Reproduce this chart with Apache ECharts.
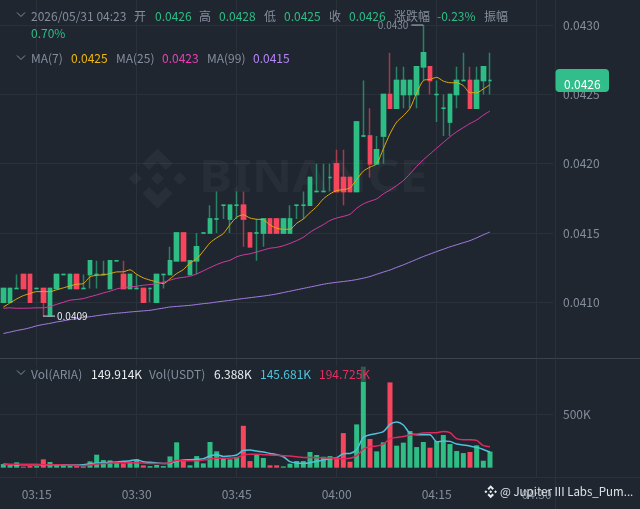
<!DOCTYPE html>
<html><head><meta charset="utf-8">
<style>html,body{margin:0;padding:0;background:#1f2630}#c{width:640px;height:509px}</style>
<script src="https://cdn.jsdelivr.net/npm/echarts@6/dist/echarts.min.js"></script>
</head><body><div id="c"></div>
<script>
const startMinute = 3*60+10;
const slotCount = 83;
const opens  = [.0410,.0410,.0411,.0412,.0412,.0411,.0411,.0409,.0411,.0412,.0411,.0412,.0411,.0412,.0412,.0412,.0411,.0413,.0412,.0411,.0411,.0411,.0411,.0410,.0412,.0412,.0413,.0415,.0412,.0413,.0415,.0415,.0416,.0417,.0416,.0417,.0417,.0415,.0415,.0415,.0416,.0416,.0415,.0415,.0417,.0417,.0417,.0418,.0418,.0419,.0420,.0419,.0419,.0418,.0422,.0422,.0420,.0422,.0425,.0424,.0425,.0425,.0425,.0427,.0427,.0425,.0424,.0423,.0425,.0426,.0426,.0424,.0426,.0426];
const closes = [.0411,.0411,.0411,.0411,.0410,.0411,.0410,.0411,.0412,.0412,.0412,.0411,.0411,.0413,.0412,.0412,.0413,.0413,.0411,.0412,.0411,.0410,.0411,.0412,.0412,.0413,.0415,.0413,.0413,.0414,.0415,.0416,.0416,.0417,.0417,.0417,.0416,.0414,.0415,.0416,.0415,.0415,.0416,.0416,.0417,.0417,.0419,.0418,.0418,.0419,.0418,.0418,.0418,.0423,.0422,.0420,.0421,.0425,.0424,.0426,.0426,.0426,.0427,.0428,.0426,.0425,.0424,.0425,.0426,.0426,.0424,.0426,.0427,.0426];
const lows   = [.0410,.0410,.0411,.0411,.0410,.0411,.0409,.0409,.0411,.0412,.0411,.0411,.0411,.0411,.0411,.0412,.0411,.0413,.0411,.0411,.0411,.0410,.0410,.0410,.0411,.0412,.0413,.0413,.0412,.0412,.0415,.0415,.0415,.0416,.0415,.0416,.0414,.0414,.0413,.0414,.0415,.0415,.0415,.0415,.0416,.0416,.0417,.0418,.0418,.0418,.0418,.0417,.0418,.0418,.0422,.0419,.0420,.0420,.0424,.0424,.0424,.0424,.0424,.0426,.0425,.0423,.0422,.0422,.0424,.0426,.0424,.0424,.0425,.0425];
const highs  = [.0411,.0411,.0412,.0412,.0412,.0411,.0411,.0411,.0412,.0412,.0412,.0412,.0412,.0413,.0413,.0413,.0413,.0413,.0413,.0412,.0412,.0411,.0411,.0412,.0412,.0414,.0415,.0415,.0413,.0415,.0415,.0417,.0418,.0417,.0417,.0418,.0418,.0415,.0416,.0416,.0416,.0416,.0416,.0417,.0417,.0418,.0419,.0420,.0420,.0420,.0421,.0421,.0419,.0423,.0426,.0424,.0422,.0425,.0428,.0427,.0427,.0426,.0427,.0430,.0427,.0426,.0425,.0425,.0427,.0428,.0427,.0427,.0427,.0428];
const ma7  = [.040966,.040995,.041024,.041048,.041063,.041077,.041077,.041077,.04109,.041104,.041118,.04113,.041135,.041183,.041195,.041198,.041207,.041219,.04122,.041234,.041202,.041176,.04116,.041147,.041135,.04117,.041207,.041236,.041284,.041313,.041369,.041429,.041465,.041496,.04156,.041614,.041631,.041608,.041599,.041596,.041558,.041534,.041527,.041527,.04157,.041601,.041647,.04169,.041746,.041782,.041806,.041813,.041825,.041886,.041946,.041975,.041999,.042107,.042216,.0423,.042346,.0424,.04251,.0426,.042608,.042623,.042596,.042584,.042584,.042563,.042512,.042512,.042539,.04257];
const ma25 = [.040957,.04096,.040957,.040957,.040958,.04096,.04096,.04097,.040985,.041,.041015,.04102,.041027,.04104,.041053,.041067,.04108,.041096,.041106,.04111,.041116,.041123,.041128,.041135,.041145,.04116,.041173,.04118,.041188,.041205,.041227,.04125,.041272,.04129,.041303,.041328,.041342,.04135,.041363,.041377,.04139,.041396,.041408,.041425,.041445,.041469,.041505,.041534,.04156,.04159,.041608,.04162,.041635,.041678,.04171,.041729,.041746,.041782,.04181,.041842,.041878,.041927,.04198,.042028,.04207,.042112,.042153,.042194,.04223,.04226,.04229,.042315,.04235,.04238];
const ma99 = [.040775,.040785,.040796,.040805,.040816,.04083,.040840,.040848,.040858,.040866,.040875,.040882,.04089,.040896,.040903,.04091,.040916,.040921,.040925,.04093,.040934,.040938,.040942,.04095,.040958,.040966,.04097,.040974,.040978,.040984,.04099,.040995,.041002,.041008,.041014,.041021,.041027,.041033,.041039,.041045,.041052,.04106,.04107,.04108,.04109,.0411,.04111,.04112,.04113,.041138,.041144,.04115,.041156,.041164,.041174,.041186,.041202,.041218,.041233,.041252,.04127,.04129,.04131,.04133,.041348,.041366,.041383,.0414,.041415,.04143,.041445,.041465,.041487,.041507];
const vols = [34,22,50,10,15,15,78,53,28,25,22,15,12,59,121,71,68,47,40,56,74,22,15,25,15,105,236,62,22,108,40,239,152,84,78,100,390,62,118,90,22,22,12,37,62,62,146,118,102,108,80,322,56,403,940,267,152,236,794,205,233,341,192,239,186,248,304,220,155,136,146,208,65,150];
const volFast = [34,28,28,28,28,28,28,28,28,28,25,25,28,34,43,47,50,53,59,65,74,56,50,43,40,40,59,71,74,78,84,109,121,105,109,118,161,165,155,146,133,121,102,56,43,40,46,59,71,84,93,130,133,170,282,307,319,335,403,425,397,319,307,307,307,242,248,245,220,211,201,189,170,146];
const volSlow = [34,31,31,31,31,31,28,28,27,26,25,22,19,25,34,40,43,46,46,46,46,43,40,40,40,46,68,65,65,62,71,81,87,87,90,93,118,124,124,121,118,115,112,109,102,96,96,93,93,90,87,84,87,112,174,195,202,220,270,282,291,304,313,322,326,326,338,326,270,260,260,254,205,195];
const priceTicks = [0.0410,0.0415,0.0420,0.0425,0.0430];
const volTicks = [500000];
const header = ['2026/05/31 04:23','开','0.0426','高','0.0428','低','0.0425','收','0.0426','涨跌幅','-0.23%','振幅','0.70%'];
const maRow = ['MA(7)','0.0425','MA(25)','0.0423','MA(99)','0.0415'];
const volRow = ['Vol(ARIA)','149.914K','Vol(USDT)','6.388K','145.681K','194.725K'];
const lastPrice = '0.0426';
const attribution = '@ Jupiter III Labs_Pum...';
const brand = 'BINANCE';

const GREEN='#2EBD85',RED='#F6465D',GRAY='#848E9C',GRID='#2a313b',FONT='"Noto Sans CJK SC","Noto Sans",sans-serif';
const cats=[];for(let i=0;i<slotCount;i++){const m=startMinute+i;cats.push(String(Math.floor(m/60)).padStart(2,'0')+':'+String(m%60).padStart(2,'0'));}
const isTick=(i,v)=>Number(v.slice(3))%15===0;
const wickData=opens.map((o,i)=>[o,closes[i],lows[i],highs[i]]);
const bodyData=opens.map((o,i)=>[o,closes[i],Math.min(o,closes[i]),Math.max(o,closes[i])]);
const volData=vols.map((v,i)=>({value:v*1000,itemStyle:{color:closes[i]<opens[i]?RED:GREEN}}));
const hiIdx=highs.indexOf(Math.max(...highs)),loIdx=lows.lastIndexOf(Math.min(...lows));
const chart=echarts.init(document.getElementById('c'),null,{renderer:'canvas'});
function t(x,y,s,fill,extra){return Object.assign({type:'text',x:x,y:y,z:50,style:{text:s,fill:fill,font:'12px '+FONT,textVerticalAlign:'middle',textAlign:'left'}},extra||{});}
function chevron(x,y){return {type:'polyline',z:50,shape:{points:[[x,y-2.5],[x+4,y+1.5],[x+8,y-2.5]]},style:{stroke:GRAY,lineWidth:1,fill:null}};}
function logo(cx,cy,r,fill){
  const P=(pts)=>({type:'polygon',z:1,shape:{points:pts.map(p=>[cx+p[0]*r,cy+p[1]*r])},style:{fill:fill}});
  const d=(x,y,h)=>[[x,y-h],[x+h,y],[x,y+h],[x-h,y]];
  return [P(d(0,0,.22)),P(d(-.74,0,.22)),P(d(.74,0,.22)),
    P([[0,-1],[.5,-.5],[.28,-.28],[0,-.56],[-.28,-.28],[-.5,-.5]]),
    P([[0,1],[.5,.5],[.28,.28],[0,.56],[-.28,.28],[-.5,.5]])];
}
const graphics=[
  ...logo(157.5,178.5,30,'rgba(255,255,255,0.045)'),
  {type:'text',z:1,x:199,y:179,scaleX:1.11,style:{text:brand,fill:'rgba(255,255,255,0.04)',font:'bold 45px "Noto Sans",sans-serif',textVerticalAlign:'middle'}},
  {type:'line',z:40,shape:{x1:0,y1:358.5,x2:640,y2:358.5},style:{stroke:'#3a424d',lineWidth:1}},
  {type:'line',z:40,shape:{x1:0,y1:477.5,x2:640,y2:477.5},style:{stroke:GRID,lineWidth:1}},
  {type:'line',z:40,shape:{x1:555.5,y1:0,x2:555.5,y2:509},style:{stroke:GRID,lineWidth:1}},
  {type:'rect',z:45,shape:{x:0,y:366,width:372,height:16},style:{fill:'rgba(31,38,48,0.62)'}},
  chevron(17,15),chevron(17,58),chevron(17,373),
  t(31,16,header[0],GRAY),t(134,16,header[1],GRAY),t(155,16,header[2],GREEN),t(199,16,header[3],GRAY),t(219,16,header[4],GREEN),
  t(264,16,header[5],GRAY),t(284,16,header[6],GREEN),t(329,16,header[7],GRAY),t(349,16,header[8],GREEN),t(394,16,header[9],GRAY),
  t(437,16,header[10],GREEN),t(484,16,header[11],GRAY),t(31,33,header[12],GREEN),
  t(31,58,maRow[0],GRAY),t(71,58,maRow[1],'#F0B90B'),t(116,58,maRow[2],GRAY),t(162,58,maRow[3],'#EB40B5'),t(207,58,maRow[4],GRAY),t(253,58,maRow[5],'#B385F8'),
  t(31,374,volRow[0],GRAY),t(91,374,volRow[1],'#EAECEF'),t(149,374,volRow[2],GRAY),t(214,374,volRow[3],'#EAECEF'),t(260,374,volRow[4],'#4FC3DC'),t(319,374,volRow[5],'#E8305F'),
  {type:'rect',z:60,shape:{x:555.5,y:69,width:53.5,height:23,r:4},style:{fill:'#32BE8A'}},
  t(564,84,lastPrice,'#FFFFFF',{z:61}),
  ...logo(490.7,491.7,6.5,'#EAECEF').map(g=>Object.assign(g,{z:62})),
  t(500,492,attribution,'#DFE3E8',{z:62,style:{text:attribution,fill:'#DFE3E8',font:'11.5px '+FONT,textVerticalAlign:'middle',textAlign:'left'}})
];
const candle=(name,data,up,down,extra)=>Object.assign({type:'candlestick',name,data,xAxisIndex:0,yAxisIndex:0,barWidth:4,clip:false,
  itemStyle:{color:up,color0:down,borderColor:up,borderColor0:down,borderColorDoji:up,borderWidth:1.5}},extra||{});
const maLine=(d,c)=>({type:'line',data:d,xAxisIndex:0,yAxisIndex:0,showSymbol:false,symbol:'none',smooth:.25,lineStyle:{color:c,width:1},clip:false,silent:true});
const volLine=(d,c)=>({type:'line',data:d.map(v=>v*1000),xAxisIndex:1,yAxisIndex:1,showSymbol:false,symbol:'none',smooth:.25,lineStyle:{color:c,width:1.5},silent:true});
chart.setOption({
  animation:false,backgroundColor:'#1f2630',textStyle:{fontFamily:FONT},
  grid:[{left:0,top:0,width:553.33,height:358},{left:0,top:358,width:553.33,height:119}],
  xAxis:[
    {type:'category',gridIndex:0,data:cats,axisLine:{show:false},axisTick:{show:false},axisLabel:{show:false},
     splitLine:{show:true,interval:isTick,alignWithLabel:true,lineStyle:{color:GRID,width:1}}},
    {type:'category',gridIndex:1,data:cats,axisLine:{show:false},axisTick:{show:false},
     axisLabel:{interval:isTick,color:GRAY,fontSize:12,margin:11,hideOverlap:false},
     splitLine:{show:true,interval:isTick,alignWithLabel:true,lineStyle:{color:GRID,width:1}}}
  ],
  yAxis:[
    {type:'value',gridIndex:0,position:'right',offset:1.67,scale:true,min:0.040598,max:0.043181,
     axisLine:{show:false},axisTick:{show:false,customValues:priceTicks},
     axisLabel:{customValues:priceTicks,color:GRAY,fontSize:12,margin:8,formatter:v=>v.toFixed(4)},
     splitLine:{show:true,lineStyle:{color:GRID,width:1}}},
    {type:'value',gridIndex:1,position:'right',offset:1.67,min:-86600,max:1021000,
     axisLine:{show:false},axisTick:{show:false,customValues:volTicks},
     axisLabel:{customValues:volTicks,color:GRAY,fontSize:12,margin:8,formatter:v=>(v/1000)+'K'},
     splitLine:{show:true,lineStyle:{color:GRID,width:1}}}
  ],
  series:[
    candle('wick',wickData,'rgba(46,189,133,0.62)','rgba(246,70,93,0.62)'),
    candle('body',bodyData,GREEN,RED,{markPoint:{symbol:'rect',silent:true,animation:false,data:[
      {coord:[cats[hiIdx],highs[hiIdx]],symbolSize:[12,1.5],symbolOffset:[-6,0],itemStyle:{color:GRAY},
       label:{show:true,position:'left',distance:3,formatter:highs[hiIdx].toFixed(4),color:GRAY,fontSize:10,fontFamily:FONT}},
      {coord:[cats[loIdx],lows[loIdx]],symbolSize:[12,1.5],symbolOffset:[-1,0],itemStyle:{color:'#9aa3ae'},
       label:{show:true,position:'right',distance:2,formatter:lows[loIdx].toFixed(4),color:'#EAECEF',fontSize:10,fontFamily:FONT}}
    ]}}),
    maLine(ma7,'#E0AC0B'),maLine(ma25,'#D63BA6'),maLine(ma99,'#A67FE8'),
    {type:'bar',data:volData,xAxisIndex:1,yAxisIndex:1,barWidth:5,silent:true},
    volLine(volFast,'#4FC3DC'),volLine(volSlow,'#E0295C')
  ],
  graphic:graphics
});
</script></body></html>
